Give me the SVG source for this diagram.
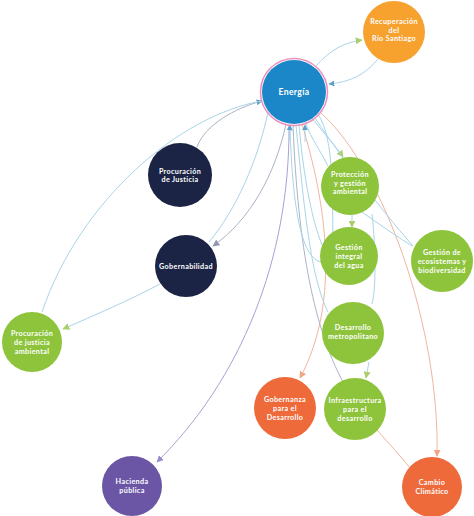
<svg xmlns="http://www.w3.org/2000/svg" width="474" height="516" viewBox="0 0 474 516">
<defs>
<style>
.e{fill:none;stroke:#a9d4e8;stroke-width:1}
.eg{fill:none;stroke:#aab4c4;stroke-width:1}
.eo{fill:none;stroke:#f1b59c;stroke-width:1}
.ep{fill:none;stroke:#aaa0d4;stroke-width:1}
.n text{font-family:"Lato","Open Sans","DejaVu Sans",sans-serif;font-weight:700;fill:#fff;text-anchor:middle;font-size:7.2px;letter-spacing:0.35px}
.blue{fill:#1b87c8}.orange{fill:#f7a12f}.navy{fill:#1b2444}.green{fill:#8dc43c}.red{fill:#ee6a3b}.purple{fill:#6b55a5}
</style>
<marker id="aB" viewBox="0 0 10 10" refX="9" refY="5" markerWidth="6" markerHeight="6" markerUnits="userSpaceOnUse" orient="auto"><path d="M0,0 L10,5 L0,10 z" fill="#5c9fc9"/></marker>
<marker id="aG" viewBox="0 0 10 10" refX="9" refY="5" markerWidth="7" markerHeight="7" markerUnits="userSpaceOnUse" orient="auto"><path d="M0,0 L10,5 L0,10 z" fill="#8f9aae"/></marker>
<marker id="aL" viewBox="0 0 10 10" refX="9" refY="5" markerWidth="7" markerHeight="7" markerUnits="userSpaceOnUse" orient="auto"><path d="M0,0 L10,5 L0,10 z" fill="#a9cf6a"/></marker>
<marker id="aO" viewBox="0 0 10 10" refX="9" refY="5" markerWidth="7" markerHeight="7" markerUnits="userSpaceOnUse" orient="auto"><path d="M0,0 L10,5 L0,10 z" fill="#f0a585"/></marker>
<marker id="aP" viewBox="0 0 10 10" refX="9" refY="5" markerWidth="7" markerHeight="7" markerUnits="userSpaceOnUse" orient="auto"><path d="M0,0 L10,5 L0,10 z" fill="#9a8ccc"/></marker>
</defs>
<rect width="474" height="516" fill="#fff"/>
<g id="connectors">
<path class="e" d="M316,66 C330,50 345,42 362,40" marker-end="url(#aL)"/>
<path class="e" d="M378,59 C365,75 350,82 329,84" marker-end="url(#aB)"/>
<path class="eg" d="M197,147 C205,125 235,108 262,101" marker-end="url(#aB)"/>
<path class="e" d="M42,312 C80,200 180,115 262,101"/>
<path class="e" d="M160,284 C130,300 95,315 63,329" marker-end="url(#aL)"/>
<path class="eg" d="M286,124 C275,175 250,220 213,246" marker-end="url(#aG)"/>
<path class="e" d="M268,112 C258,160 236,210 209,242"/>
<path class="ep" d="M289,125 C290,260 240,380 157,462" marker-end="url(#aP)"/>
<path class="eo" d="M302,124 C325,200 342,300 300,378" marker-end="url(#aO)"/>
<path class="eg" d="M293,125 C298,250 315,330 343,382"/>
<path class="e" d="M296,125 C305,220 312,280 328,312"/>
<path class="e" d="M299,125 C304,180 312,220 322,245"/>
<path class="e" d="M290,125 C292,200 300,260 322,262"/>
<path class="e" d="M305,122 C312,140 320,150 328,166"/>
<path class="e" d="M312,118 C325,135 335,145 343,157" marker-end="url(#aL)"/>
<path class="e" d="M318,114 C335,140 332,200 333,240"/>
<path class="eo" d="M320,112 C385,170 440,330 437,456" marker-end="url(#aO)"/>
<path class="e" d="M315,118 C350,170 390,220 413,246"/>
<path class="e" d="M352,215 L352,227" marker-end="url(#aL)"/>
<path class="e" d="M362,212 C380,225 395,235 412,246"/>
<path class="e" d="M372,214 C376,250 376,290 372,304"/>
<path class="e" d="M369,362 L366,378" marker-end="url(#aL)"/>
<path class="eo" d="M377,430 C390,445 400,455 409,467"/>
<path class="e" d="M305,142 L305,125" marker-end="url(#aB)"/>
<path class="e" d="M289,140 L290,125" marker-end="url(#aB)"/>
</g>
<g id="energia" class="n"><circle cx="294" cy="92" r="33.5" fill="none" stroke="#ec8fbd" stroke-width="1.5"/><circle class="blue" cx="294" cy="92" r="32"/><text x="294" y="95" style="font-size:8.6px">Energía</text></g>
<g id="recuperacion" class="n"><circle class="orange" cx="394" cy="32" r="31"/><text x="394" y="23.8">Recuperación</text><text x="394" y="32.6">del</text><text x="394" y="41.4">Río Santiago</text></g>
<g id="procuracion-justicia" class="n"><circle class="navy" cx="180" cy="175" r="32"/><text x="180" y="173.5">Procuración</text><text x="180" y="182.3">de Justicia</text></g>
<g id="gobernabilidad" class="n"><circle class="navy" cx="186" cy="266" r="31"/><text x="186" y="268.5">Gobernabilidad</text></g>
<g id="proteccion" class="n"><circle class="green" cx="350" cy="186" r="29"/><text x="350" y="176.8">Protección</text><text x="350" y="185.6">y gestión</text><text x="350" y="194.4">ambiental</text></g>
<g id="gestion-agua" class="n"><circle class="green" cx="349" cy="256" r="29"/><text x="349" y="250">Gestión</text><text x="349" y="258.8">integral</text><text x="349" y="267.6">del agua</text></g>
<g id="ecosistemas" class="n"><circle class="green" cx="442" cy="261" r="31"/><text x="442" y="255">Gestión de</text><text x="442" y="263.8">ecosistemas y</text><text x="442" y="272.6">biodiversidad</text></g>
<g id="procuracion-ambiental" class="n"><circle class="green" cx="32" cy="342" r="30"/><text x="32" y="336">Procuración</text><text x="32" y="344.8">de justicia</text><text x="32" y="353.6">ambiental</text></g>
<g id="desarrollo-metropolitano" class="n"><circle class="green" cx="353" cy="333" r="31"/><text x="353" y="330">Desarrollo</text><text x="353" y="338.8">metropolitano</text></g>
<g id="gobernanza" class="n"><circle class="red" cx="285" cy="408" r="31"/><text x="285" y="402">Gobernanza</text><text x="285" y="410.8">para el</text><text x="285" y="419.6">Desarrollo</text></g>
<g id="infraestructura" class="n"><circle class="green" cx="355" cy="409" r="31"/><text x="355" y="403">Infraestructura</text><text x="355" y="411.8">para el</text><text x="355" y="420.6">desarrollo</text></g>
<g id="hacienda" class="n"><circle class="purple" cx="132" cy="486" r="30"/><text x="132" y="484">Hacienda</text><text x="132" y="492.8">pública</text></g>
<g id="cambio" class="n"><circle class="red" cx="432" cy="487" r="30"/><text x="432" y="485">Cambio</text><text x="432" y="493.8">Climático</text></g>
</svg>
